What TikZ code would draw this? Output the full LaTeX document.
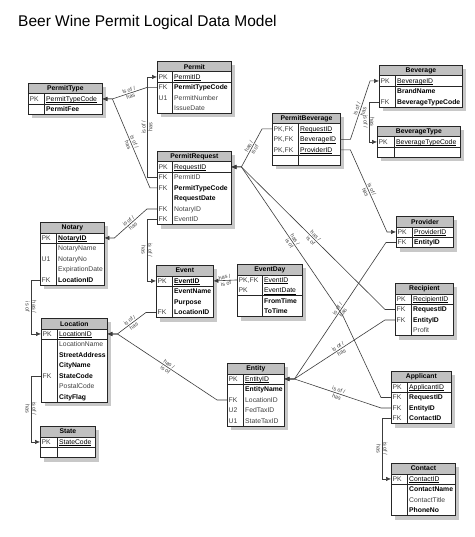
\documentclass[tikz,border=0pt]{standalone}
\usepackage{fontspec}
\setmainfont{Liberation Sans}
\usetikzlibrary{calc,arrows.meta}

\definecolor{hdrgray}{HTML}{C0C0C0}
\definecolor{shadowgray}{HTML}{C8C8C8}
\definecolor{linegray}{HTML}{3C3C3C}
\definecolor{txtgray}{HTML}{404040}

\newcommand{\pku}[1]{\setbox0\hbox{#1}\rlap{\rule[-1.3pt]{\wd0}{0.55pt}}\box0}

\tikzset{
  tbl/.style={draw=black!85, line width=0.8pt},
  hdr/.style={draw=black!85, line width=0.8pt, fill=hdrgray, minimum height=10.5pt, inner sep=0pt, font=\fontsize{6.8}{7}\selectfont\bfseries},
  rowbox/.style={minimum height=10.5pt, inner sep=0pt},
  keytxt/.style={inner sep=0pt, font=\fontsize{6.8}{7}\selectfont, text=txtgray},
  fb/.style={inner sep=0pt, font=\fontsize{6.8}{7}\selectfont\bfseries},
  fr/.style={inner sep=0pt, font=\fontsize{6.8}{7}\selectfont, text=txtgray},
  fu/.style={inner sep=0pt, font=\fontsize{6.8}{7}\selectfont, text=black},
  rel/.style={draw=linegray, line width=0.6pt, -{Latex[length=5pt,width=4.5pt]}},
  lab/.style={inner sep=1.1pt, font=\fontsize{5.5}{6}\selectfont, text=txtgray},
}

\newcommand{\erTable}[8]{% name,x,y,w,d,title,H,P
  \def\erName{#1}\def\erX{#2}\def\erY{#3}\def\erW{#4}\def\erD{#5}%
  \fill[shadowgray] ({#2+4},{#3+4}) rectangle ({#2+#4+4},{#3+10.5+#7+4});
  \draw[tbl, fill=white] (#2,#3) rectangle ({#2+#4},{#3+10.5+#7});
  \draw[tbl] (#2,{#3+10.5+#8}) -- ({#2+#4},{#3+10.5+#8});
  \draw[tbl] ({#2+#5},{#3+10.5}) -- ({#2+#5},{#3+10.5+#7});
  \node[hdr, minimum width=#4pt, anchor=north west] (#1) at (#2,#3) {#6};
}
\newcommand{\erRow}[4]{% index,key,field,style
  \node[rowbox, minimum width=\erW pt, anchor=north west] (\erName-#1) at (\erX,{\erY+10.5*#1}) {};
  \node[keytxt, anchor=base west] (\erName-#1k) at ([xshift=1.5pt,yshift=-2.4pt]\erName-#1.west) {#2};
  \node[#4, anchor=base west] (\erName-#1f) at ([xshift=\erD pt+2pt,yshift=-2.4pt]\erName-#1.west) {#3};
}

\begin{document}
\begin{tikzpicture}[x=1pt,y=-1pt]
\useasboundingbox (0,0) rectangle (474,537);
\fill[white] (0,0) rectangle (474,537);

\node[anchor=base west, font=\fontsize{15.5}{18}\selectfont, inner sep=0pt] (title) at (18,27) {Beer Wine Permit Logical Data Model};

% ---------- tables ----------
\erTable{permit}{157}{61}{74}{15}{Permit}{42}{10.5}
\erRow{1}{PK}{\pku{PermitID}}{fu}
\erRow{2}{FK}{PermitTypeCode}{fb}
\erRow{3}{U1}{PermitNumber}{fr}
\erRow{4}{}{IssueDate}{fr}

\erTable{ptype}{28}{83}{74}{16}{PermitType}{21}{10.5}
\erRow{1}{PK}{\pku{PermitTypeCode}}{fu}
\erRow{2}{}{PermitFee}{fb}

\erTable{preq}{157}{151}{74}{15}{PermitRequest}{63}{10.5}
\erRow{1}{PK}{\pku{RequestID}}{fu}
\erRow{2}{FK}{PermitID}{fr}
\erRow{3}{FK}{PermitTypeCode}{fb}
\erRow{4}{}{RequestDate}{fb}
\erRow{5}{FK}{NotaryID}{fr}
\erRow{6}{FK}{EventID}{fr}

\erTable{notary}{40}{222}{64}{16}{Notary}{52.5}{10.5}
\erRow{1}{PK}{\pku{NotaryID}}{fb}
\erRow{2}{}{NotaryName}{fr}
\erRow{3}{U1}{NotaryNo}{fr}
\erRow{4}{}{ExpirationDate}{fr}
\erRow{5}{FK}{LocationID}{fb}

\erTable{event}{156}{265}{57}{16}{Event}{42}{10.5}
\erRow{1}{PK}{\pku{EventID}}{fb}
\erRow{2}{}{EventName}{fb}
\erRow{3}{}{Purpose}{fb}
\erRow{4}{FK}{LocationID}{fb}

\erTable{eventday}{237}{264}{65}{25}{EventDay}{42}{21}
\erRow{1}{PK,FK}{\pku{EventID}}{fu}
\erRow{2}{PK}{\pku{EventDate}}{fu}
\erRow{3}{}{FromTime}{fb}
\erRow{4}{}{ToTime}{fb}

\erTable{location}{41}{318}{66}{16}{Location}{73.5}{10.5}
\erRow{1}{PK}{\pku{LocationID}}{fu}
\erRow{2}{}{LocationName}{fr}
\erRow{3}{}{StreetAddress}{fb}
\erRow{4}{}{CityName}{fb}
\erRow{5}{FK}{StateCode}{fb}
\erRow{6}{}{PostalCode}{fr}
\erRow{7}{}{CityFlag}{fb}

\erTable{state}{40}{426}{55}{17}{State}{21}{10.5}
\erRow{1}{PK}{\pku{StateCode}}{fu}

\erTable{pbev}{272}{113}{68}{26}{PermitBeverage}{42}{31.5}
\erRow{1}{PK,FK}{\pku{RequestID}}{fu}
\erRow{2}{PK,FK}{\pku{BeverageID}}{fu}
\erRow{3}{PK,FK}{\pku{ProviderID}}{fu}

\erTable{beverage}{379}{65}{83}{16}{Beverage}{31.5}{10.5}
\erRow{1}{PK}{\pku{BeverageID}}{fu}
\erRow{2}{}{BrandName}{fb}
\erRow{3}{FK}{BeverageTypeCode}{fb}

\erTable{bevtype}{377}{126}{83}{17}{BeverageType}{21}{10.5}
\erRow{1}{PK}{\pku{BeverageTypeCode}}{fu}

\erTable{provider}{396}{216}{57}{16}{Provider}{21}{10.5}
\erRow{1}{PK}{\pku{ProviderID}}{fu}
\erRow{2}{FK}{EntityID}{fb}

\erTable{recipient}{395}{283}{58}{16}{Recipient}{42}{10.5}
\erRow{1}{PK}{\pku{RecipientID}}{fu}
\erRow{2}{FK}{RequestID}{fb}
\erRow{3}{FK}{EntityID}{fb}
\erRow{4}{}{Profit}{fr}

\erTable{applicant}{391}{371}{60}{16}{Applicant}{42}{10.5}
\erRow{1}{PK}{\pku{ApplicantID}}{fu}
\erRow{2}{FK}{RequestID}{fb}
\erRow{3}{FK}{EntityID}{fb}
\erRow{4}{FK}{ContactID}{fb}

\erTable{contact}{391}{463}{64}{16}{Contact}{42}{10.5}
\erRow{1}{PK}{\pku{ContactID}}{fu}
\erRow{2}{}{ContactName}{fb}
\erRow{3}{}{ContactTitle}{fr}
\erRow{4}{}{PhoneNo}{fb}

\erTable{entity}{227}{363}{57}{16}{Entity}{52.5}{10.5}
\erRow{1}{PK}{\pku{EntityID}}{fu}
\erRow{2}{}{EntityName}{fb}
\erRow{3}{FK}{LocationID}{fr}
\erRow{4}{U2}{FedTaxID}{fr}
\erRow{5}{U1}{StateTaxID}{fr}

\coordinate (bendM) at (343,316);

% ---------- relationships ----------
% Permit -> PermitType
\draw[rel] (permit-2.west) -- ++(-10,0) -- node[lab,sloped,above] (lA1) {is of /} node[lab,sloped,below] (lA2) {has} ($(ptype-1.east)+(10,0)$) -- (ptype-1.east);
% PermitRequest -> PermitType
\draw[rel] (preq-3.west) -- ++(-7,0) -- node[lab,sloped,above] (lB1) {is of /} node[lab,sloped,below] (lB2) {has} ($(ptype-1.east)+(10,0)$) -- (ptype-1.east);
% PermitRequest -> Permit
\draw[rel] (preq-2.west) -- ++(-10,0) |- node[lab,pos=0.25,rotate=90,anchor=south] (lC1) {is of /} node[lab,pos=0.25,rotate=90,anchor=north] (lC2) {has} (permit-1.west);
% PermitRequest -> Notary
\draw[rel] (preq-5.west) -- ++(-10,0) -- node[lab,sloped,above] (lD1) {is of /} node[lab,sloped,below] (lD2) {has} ($(notary-1.east)+(10,0)$) -- (notary-1.east);
% PermitRequest -> Event
\draw[rel] (preq-6.west) -- ++(-10,0) |- node[lab,pos=0.25,rotate=-90,anchor=south] (lE1) {is of /} node[lab,pos=0.25,rotate=-90,anchor=north] (lE2) {has} (event-1.west);
% Notary -> Location
\draw[rel] (notary-5.west) -- ++(-9,0) |- node[lab,pos=0.25,rotate=-90,anchor=south] (lF1) {has /} node[lab,pos=0.25,rotate=-90,anchor=north] (lF2) {is of} (location-1.west);
% Location -> State
\draw[rel] (location-5.west) -- ++(-10,0) |- node[lab,pos=0.25,rotate=-90,anchor=south] (lG1) {is of /} node[lab,pos=0.25,rotate=-90,anchor=north] (lG2) {has} (state-1.west);
% Event -> Location
\draw[rel] (event-4.west) -- ++(-10,0) -- node[lab,sloped,above] (lH1) {is of /} node[lab,sloped,below] (lH2) {has} ($(location-1.east)+(10,0)$) -- (location-1.east);
% Entity -> Location
\draw[rel] (entity-3.west) -- ++(-10,0) -- node[lab,sloped,above] (lI1) {has /} node[lab,sloped,below] (lI2) {is of} ($(location-1.east)+(10,0)$) -- (location-1.east);
% EventDay -> Event
\draw[rel] (eventday-1.west) -- node[lab,rotate=12,above] (lJ1) {has /} node[lab,rotate=12,below] (lJ2) {is of} (event-1.east);
% PermitBeverage -> PermitRequest
\draw[rel] (pbev-1.west) -- ++(-10,0) -- node[lab,sloped,above] (lK1) {has /} node[lab,sloped,below] (lK2) {is of} ($(preq-1.east)+(10,0)$) -- (preq-1.east);
% Recipient -> PermitRequest
\draw[rel] (recipient-2.west) -- ++(-10,0) -- node[lab,sloped,above] (lL1) {has /} node[lab,sloped,below] (lL2) {is of} ($(preq-1.east)+(10,0)$) -- (preq-1.east);
% Applicant -> PermitRequest
\draw[rel] (applicant-2.west) -- ++(-10,0) -- (bendM) -- node[lab,sloped,above] (lM1) {has /} node[lab,sloped,below] (lM2) {is of} ($(preq-1.east)+(10,0)$) -- (preq-1.east);
% PermitBeverage -> Beverage
\draw[rel] (pbev-2.east) -- ++(10,0) -- node[lab,sloped,above] (lN1) {is of /} node[lab,sloped,below] (lN2) {has} ($(beverage-1.west)+(-9,0)$) -- (beverage-1.west);
% Beverage -> BeverageType
\draw[rel] (beverage-3.west) -- ++(-10,0) |- node[lab,pos=0.25,rotate=-90,anchor=north] (lO1) {is of /} node[lab,pos=0.25,rotate=-90,anchor=south] (lO2) {has} (bevtype-1.west);
% PermitBeverage -> Provider
\draw[rel] (pbev-3.east) -- ++(10,0) -- node[lab,sloped,above] (lP1) {is of /} node[lab,sloped,below] (lP2) {has} ($(provider-1.west)+(-9,0)$) -- (provider-1.west);
% Provider -> Entity
\draw[rel] (provider-2.west) -- ++(-10,0) -- node[lab,sloped,above] (lQ1) {is of /} node[lab,sloped,below] (lQ2) {has} ($(entity-1.east)+(10,0)$) -- (entity-1.east);
% Recipient -> Entity
\draw[rel] (recipient-3.west) -- ++(-10,0) -- node[lab,sloped,above] (lR1) {is of /} node[lab,sloped,below] (lR2) {has} ($(entity-1.east)+(10,0)$) -- (entity-1.east);
% Applicant -> Entity
\draw[rel] (applicant-3.west) -- ++(-10,0) -- node[lab,sloped,above] (lS1) {is of /} node[lab,sloped,below] (lS2) {has} ($(entity-1.east)+(10,0)$) -- (entity-1.east);
% Applicant -> Contact
\draw[rel] (applicant-4.west) -- ++(-9,0) |- node[lab,pos=0.25,rotate=-90,anchor=south] (lT1) {is of /} node[lab,pos=0.25,rotate=-90,anchor=north] (lT2) {has} (contact-1.west);
\end{tikzpicture}
\end{document}
